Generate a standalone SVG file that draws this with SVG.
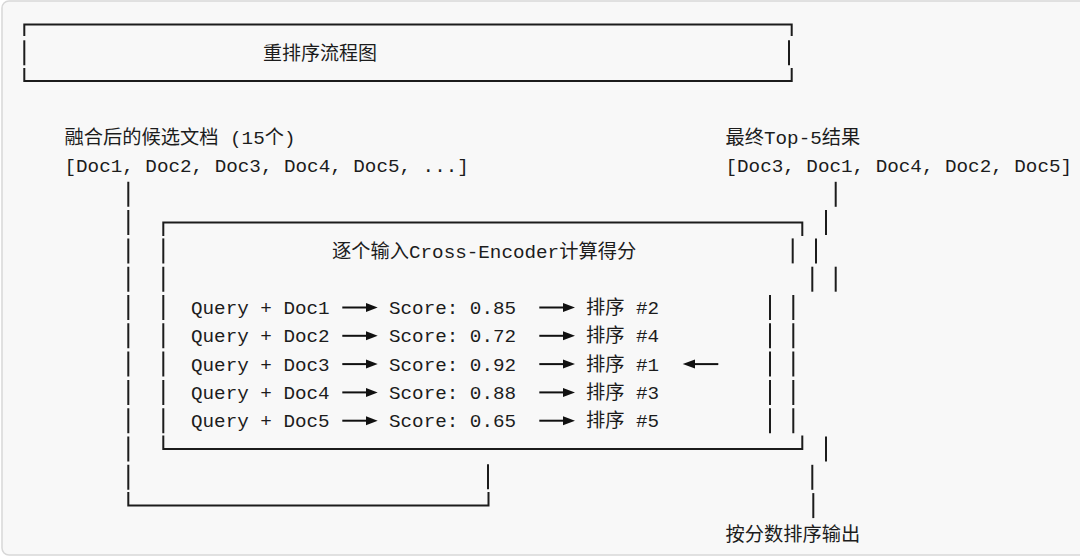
<svg xmlns="http://www.w3.org/2000/svg" width="1080" height="557" viewBox="0 0 1080 557">
<style>
  .t { font-family: "Liberation Mono", "Noto Sans CJK SC", monospace; font-size: 19.25px; fill: #1c1c1c; }
  .cjk { font-family: "Noto Sans CJK SC", sans-serif; font-size: 19px; fill: #1c1c1c; }
  .ln { stroke: #1c1c1c; stroke-width: 2; fill: none; }
  .v { stroke: #1c1c1c; stroke-width: 2; fill: none; stroke-dasharray: 25 3.3; }
  .arr { stroke: #111; stroke-width: 2; fill: none; }
  .head { fill: #111; }
</style>
<rect x="0" y="0" width="1080" height="557" fill="#ffffff"/>
<rect x="2" y="1" width="1095" height="554" rx="7" fill="#f8f8f8" stroke="#d8d8d8" stroke-width="1.5"/>

<g id="title-box">
  <path class="ln" d="M24.3,36 V24.5 H791.7 V36"/>
  <line class="ln" x1="24.3" y1="40.3" x2="24.3" y2="65.3"/>
  <line class="ln" x1="789" y1="40.3" x2="789" y2="65.3"/>
  <path class="ln" d="M24.3,68 V81.1 H791.7 V68"/>
  <text class="cjk" x="263" y="59.8">重排序流程图</text>
</g>

<g id="input-docs">
  <text class="t" x="64.5" y="144.2">融合后的候选文档 (15个)</text>
  <text class="t" x="64.5" y="172.3">[Doc1, Doc2, Doc3, Doc4, Doc5, ...]</text>
</g>

<g id="final-result">
  <text class="t" x="725.5" y="144.2">最终Top-5结果</text>
  <text class="t" x="725.5" y="172.3">[Doc3, Doc1, Doc4, Doc2, Doc5]</text>
</g>

<g id="cross-encoder-box">
  <path class="ln" d="M163.3,236 V222.6 H802.3 V236"/>
  <line class="v" x1="163.3" y1="238.4" x2="163.3" y2="433.2"/>
  <path class="ln" d="M163.3,435.5 V449 H802.3 V435.5"/>
  <text class="t" x="332" y="257.6">逐个输入Cross-Encoder计算得分</text>
  <g id="row1">
    <text class="t" x="191" y="314">Query + Doc1</text>
    <text class="t" x="389" y="314">Score: 0.85</text>
    <text class="t" x="586" y="314">排序 #2</text>
  </g>
  <g id="row2">
    <text class="t" x="191" y="342.3">Query + Doc2</text>
    <text class="t" x="389" y="342.3">Score: 0.72</text>
    <text class="t" x="586" y="342.3">排序 #4</text>
  </g>
  <g id="row3">
    <text class="t" x="191" y="370.6">Query + Doc3</text>
    <text class="t" x="389" y="370.6">Score: 0.92</text>
    <text class="t" x="586" y="370.6">排序 #1</text>
  </g>
  <g id="row4">
    <text class="t" x="191" y="398.9">Query + Doc4</text>
    <text class="t" x="389" y="398.9">Score: 0.88</text>
    <text class="t" x="586" y="398.9">排序 #3</text>
  </g>
  <g id="row5">
    <text class="t" x="191" y="427.2">Query + Doc5</text>
    <text class="t" x="389" y="427.2">Score: 0.65</text>
    <text class="t" x="586" y="427.2">排序 #5</text>
  </g>
</g>

<g id="output-label">
  <text class="t" x="725.5" y="540.6">按分数排序输出</text>
</g>

<g id="connectors">
  <line class="v" x1="128.3" y1="181.8" x2="128.3" y2="489.8"/>
  <path class="ln" d="M128.3,492 V505.6 H488.5 V492"/>
  <line class="ln" x1="488" y1="464.3" x2="488" y2="489.3"/>

  <line class="ln" x1="835.7" y1="181.8" x2="835.7" y2="206.8"/>
  <line class="ln" x1="826" y1="210.1" x2="826" y2="235.1"/>
  <line class="ln" x1="792.7" y1="238.4" x2="792.7" y2="263.4"/>
  <line class="ln" x1="816" y1="238.4" x2="816" y2="263.4"/>
  <line class="ln" x1="812.3" y1="266.7" x2="812.3" y2="291.7"/>
  <line class="ln" x1="835.7" y1="266.7" x2="835.7" y2="291.7"/>
  <line class="v" x1="770" y1="295" x2="770" y2="433.2"/>
  <line class="v" x1="793.3" y1="295" x2="793.3" y2="433.2"/>
  <line class="ln" x1="826" y1="436.5" x2="826" y2="461.5"/>
  <line class="ln" x1="812.3" y1="464.8" x2="812.3" y2="489.8"/>
  <line class="ln" x1="813.3" y1="493.1" x2="813.3" y2="518.1"/>

  <g id="arrows1">
    <line class="arr" x1="342.3" y1="307.5" x2="367" y2="307.5"/>
    <polygon class="head" points="366,303 377.7,307.5 366,312"/>
    <line class="arr" x1="342.3" y1="335.8" x2="367" y2="335.8"/>
    <polygon class="head" points="366,331.3 377.7,335.8 366,340.3"/>
    <line class="arr" x1="342.3" y1="364.1" x2="367" y2="364.1"/>
    <polygon class="head" points="366,359.6 377.7,364.1 366,368.6"/>
    <line class="arr" x1="342.3" y1="392.4" x2="367" y2="392.4"/>
    <polygon class="head" points="366,387.9 377.7,392.4 366,396.9"/>
    <line class="arr" x1="342.3" y1="420.7" x2="367" y2="420.7"/>
    <polygon class="head" points="366,416.2 377.7,420.7 366,425.2"/>
  </g>
  <g id="arrows2">
    <line class="arr" x1="539.3" y1="307.5" x2="564" y2="307.5"/>
    <polygon class="head" points="563,303 575,307.5 563,312"/>
    <line class="arr" x1="539.3" y1="335.8" x2="564" y2="335.8"/>
    <polygon class="head" points="563,331.3 575,335.8 563,340.3"/>
    <line class="arr" x1="539.3" y1="364.1" x2="564" y2="364.1"/>
    <polygon class="head" points="563,359.6 575,364.1 563,368.6"/>
    <line class="arr" x1="539.3" y1="392.4" x2="564" y2="392.4"/>
    <polygon class="head" points="563,387.9 575,392.4 563,396.9"/>
    <line class="arr" x1="539.3" y1="420.7" x2="564" y2="420.7"/>
    <polygon class="head" points="563,416.2 575,420.7 563,425.2"/>
  </g>
  <line class="arr" x1="694" y1="364.1" x2="718.3" y2="364.1"/>
  <polygon class="head" points="695,359.6 682.7,364.1 695,368.6"/>
</g>
</svg>
